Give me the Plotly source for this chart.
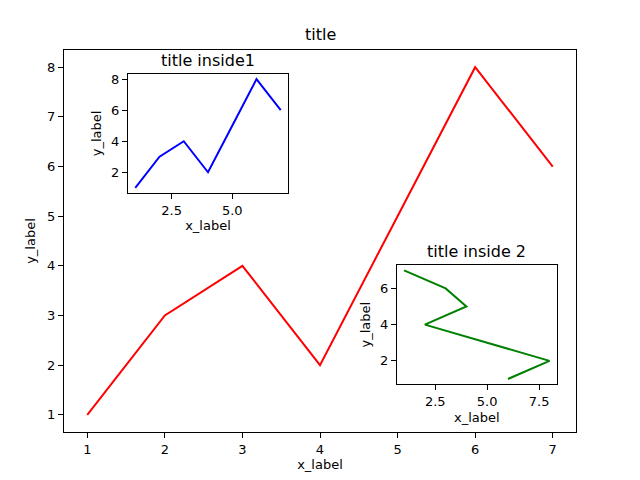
import plotly.graph_objects as go

x = [1, 2, 3, 4, 5, 6, 7]
y = [1, 3, 4, 2, 5, 8, 6]
y_rev = y[::-1]

FONT = "DejaVu Sans"
TICK_SIZE = 13
LABEL_SIZE = 13
TITLE_SIZE = 16


def axis_style(domain, anchor, rng, tickvals, fmt=None, title="", standoff=4):
    d = dict(
        domain=domain, anchor=anchor, range=rng,
        tickmode="array", tickvals=tickvals,
        showgrid=False, zeroline=False,
        showline=True, linecolor="black", linewidth=1, mirror=True,
        ticks="outside", ticklen=5, tickwidth=1, tickcolor="black",
        tickfont=dict(family=FONT, size=TICK_SIZE, color="black"),
        title=dict(text=title, font=dict(family=FONT, size=LABEL_SIZE, color="black"),
                   standoff=standoff),
    )
    if fmt:
        d["tickformat"] = fmt
    return d


fig = go.Figure()
fig.add_trace(go.Scatter(x=x, y=y, mode="lines", line=dict(color="red", width=2),
                         xaxis="x", yaxis="y"))
fig.add_trace(go.Scatter(x=x, y=y, mode="lines", line=dict(color="blue", width=2),
                         xaxis="x2", yaxis="y2"))
fig.add_trace(go.Scatter(x=y_rev, y=x, mode="lines", line=dict(color="green", width=2),
                         xaxis="x3", yaxis="y3"))

fig.update_layout(
    width=640, height=480,
    margin=dict(l=0, r=0, t=0, b=0),
    paper_bgcolor="white", plot_bgcolor="white",
    showlegend=False,
    font=dict(family=FONT, color="black"),
    xaxis=axis_style([0.1, 0.9], "y", [0.7, 7.3], [1, 2, 3, 4, 5, 6, 7], title="x_label"),
    yaxis=axis_style([0.1, 0.9], "x", [0.65, 8.35], [1, 2, 3, 4, 5, 6, 7, 8], title="y_label", standoff=8),
    xaxis2=axis_style([0.2, 0.45], "y2", [0.7, 7.3], [2.5, 5.0], fmt=".1f", title="x_label"),
    yaxis2=axis_style([0.6, 0.85], "x2", [0.65, 8.35], [2, 4, 6, 8], title="y_label", standoff=6),
    xaxis3=axis_style([0.62, 0.87], "y3", [0.65, 8.35], [2.5, 5.0, 7.5], fmt=".1f", title="x_label"),
    yaxis3=axis_style([0.2, 0.45], "x3", [0.7, 7.3], [2, 4, 6], title="y_label", standoff=6),
    annotations=[
        dict(text="title", x=0.5, y=0.9, xref="paper", yref="paper",
             xanchor="center", yanchor="bottom", yshift=4, showarrow=False,
             font=dict(family=FONT, size=TITLE_SIZE, color="black")),
        dict(text="title inside1", x=0.325, y=0.85, xref="paper", yref="paper",
             xanchor="center", yanchor="bottom", yshift=2, showarrow=False,
             font=dict(family=FONT, size=TITLE_SIZE, color="black")),
        dict(text="title inside 2", x=0.745, y=0.45, xref="paper", yref="paper",
             xanchor="center", yanchor="bottom", yshift=2, showarrow=False,
             font=dict(family=FONT, size=TITLE_SIZE, color="black")),
    ],
)

# the page's default body margin pushes the figure 8px off the corner
fig.write_html("out.html", config={"displayModeBar": False},
               post_script="document.body.style.margin = '0';")
